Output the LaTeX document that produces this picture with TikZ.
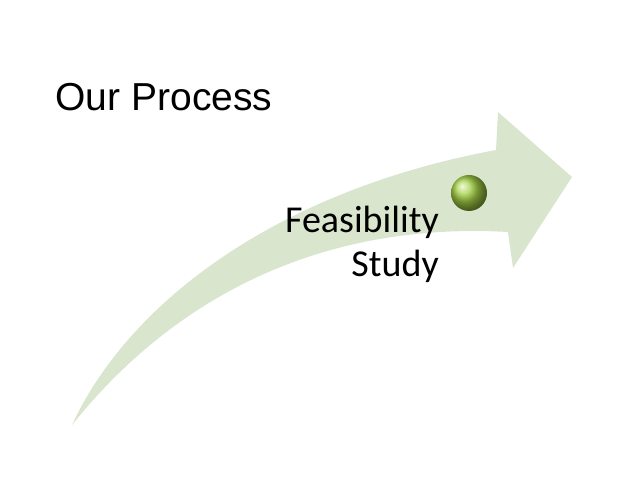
\documentclass[tikz,border=0pt]{standalone}
\usepackage{fontspec}
\setmainfont{Carlito}
\newfontfamily\arialf{Liberation Sans}
\begin{document}
\begin{tikzpicture}[x=1pt,y=-1pt]
\useasboundingbox (0,0) rectangle (638,478);
\definecolor{arrowfill}{RGB}{218,229,206}
\definecolor{ballc}{RGB}{165,210,70}
\fill[arrowfill] (72,425) .. controls (130,300) and (280,190) .. (496,150)
  -- (498,112) -- (572,177) -- (513,268) -- (508,232)
  .. controls (330,222) and (180,290) .. (72,425) -- cycle;
\node[circle,minimum size=36pt,inner sep=0pt,ball color=ballc,shading=ball] (ball) at (469,193) {};
\node[anchor=north west,font=\arialf\fontsize{39}{44}\selectfont] (title) at (52,80) {Our Process};
\node[anchor=north east,align=right,font=\fontsize{38}{44}\selectfont,inner sep=0pt] (feas) at (439,206) {Feasibility\\Study};
\end{tikzpicture}
\end{document}
